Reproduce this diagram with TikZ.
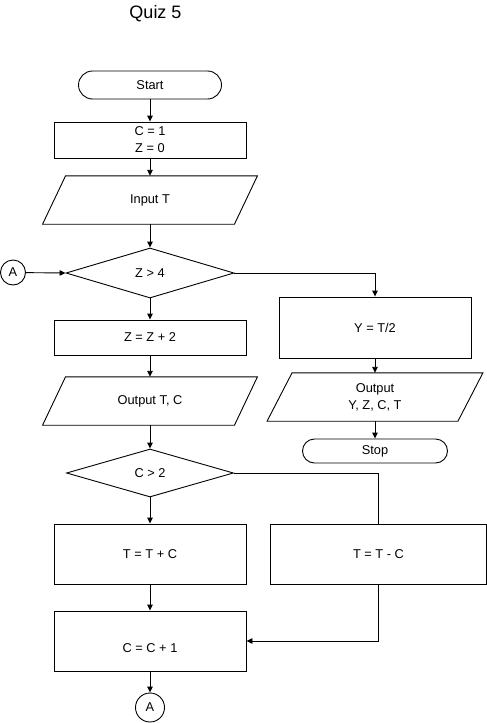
\documentclass[tikz,border=0pt]{standalone}
\usepackage{fontspec}
\setmainfont{Liberation Sans}
\usetikzlibrary{arrows.meta,shapes.geometric}
\begin{document}
\begin{tikzpicture}[x=1pt,y=-1pt,
  base/.style={font=\fontsize{12.8}{17}\selectfont, align=center, inner sep=0pt},
  line/.style={draw=black, line width=0.9pt},
  term/.style={base, line, rounded corners=#1},
  proc/.style={base, line, rectangle},
  iobox/.style={base, rectangle},
  dec/.style={base, line, diamond, aspect=3},
  conn/.style={base, line, circle},
  arr/.style={line, -{Triangle[length=6pt,width=5.5pt]}},
  plain/.style={line}
]
\useasboundingbox (0,0) rectangle (487,723);
\node[base, font=\fontsize{18}{20}\selectfont] (title) at (155.5,14) {Quiz 5};

% left column
\node[term=14pt, minimum width=143pt, minimum height=28pt] (start) at (150,85) {Start};
\node[proc, minimum width=192pt, minimum height=36pt] (init) at (150,140) {C = 1\\Z = 0};
\node[iobox, minimum width=191.5pt, minimum height=48pt] (in) at (150,200) {Input T};
\node[dec, minimum width=168pt, minimum height=50pt] (d1) at (150,273) {Z > 4};
\node[proc, minimum width=192pt, minimum height=35pt] (z2) at (150,337.5) {Z = Z + 2};
\node[iobox, minimum width=191.5pt, minimum height=48pt] (out1) at (150,401) {Output T, C};
\node[dec, minimum width=167pt, minimum height=48pt] (d2) at (150,473) {C > 2};
\node[proc, minimum width=192pt, minimum height=60pt] (tpc) at (150,554) {T = T + C};
\node[proc, minimum width=192pt, minimum height=60pt] (c1) at (150,641) {};
\node[base] (c1t) at ([yshift=-7pt]c1.center) {C = C + 1};
\node[conn, minimum size=29pt] (a2) at (150,707.5) {A};
\node[conn, minimum size=25pt] (a1) at (13,272.5) {A};

% right column
\node[proc, minimum width=192pt, minimum height=61pt] (y2) at (375,327.5) {Y = T/2};
\node[iobox, minimum width=190.5pt, minimum height=48pt] (out2) at (375,397) {Output\\Y, Z, C, T};
\node[term=12pt, minimum width=145pt, minimum height=24pt] (stop) at (375,451) {Stop};
\node[proc, minimum width=216pt, minimum height=60pt] (tmc) at (378.5,554) {T = T - C};

% parallelogram outlines
\foreach \n/\s in {in/11.5pt, out1/11.5pt, out2/12.5pt}{
  \draw[line] ([xshift=\s]\n.north west) -- ([xshift=\s]\n.north east)
    -- ([xshift=-\s]\n.south east) -- ([xshift=-\s]\n.south west) -- cycle;
}

% connectors
\draw[arr] (start) -- (init);
\draw[arr] (init) -- (in);
\draw[arr] (in.south) -- (d1.north);
\draw[arr] (d1) -- (z2);
\draw[arr] (z2) -- (out1);
\draw[arr] (out1.south) -- (d2.north);
\draw[arr] (d2) -- (tpc);
\draw[arr] (tpc) -- (c1);
\draw[arr] (c1) -- (a2);
\draw[arr] (a1) -- (d1.west);
\draw[arr] (d1.east) -| (y2.north);
\draw[arr] (y2) -- (out2);
\draw[arr] (out2.south) -- (stop);
\draw[plain] (d2.east) -| (tmc.north);
\draw[arr] (tmc.south) |- (c1.east);
\end{tikzpicture}
\end{document}
